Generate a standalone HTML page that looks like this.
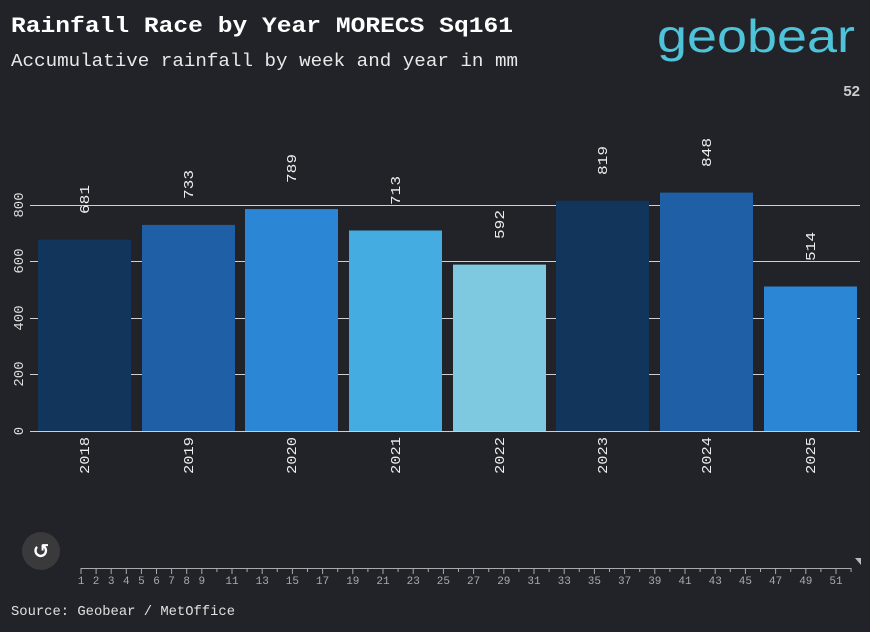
<!DOCTYPE html>
<html><head><style>
body{margin:0;background:#212328;width:870px;height:627px;overflow:hidden;font-family:"Liberation Mono",monospace;}
</style></head><body>
<svg width="870" height="627" xmlns="http://www.w3.org/2000/svg">
<rect width="870" height="627" fill="#212328"/>
<text x="11" y="32" font-family="Liberation Mono" font-weight="bold" font-size="22" fill="#fff" textLength="502" lengthAdjust="spacingAndGlyphs">Rainfall Race by Year MORECS Sq161</text>
<text x="11" y="66" font-family="Liberation Mono" font-size="18" fill="#e8e8e8" textLength="507" lengthAdjust="spacingAndGlyphs">Accumulative rainfall by week and year in mm</text>
<text x="657" y="52" font-family="Liberation Sans" font-size="46" fill="#4fc3d9" textLength="198" lengthAdjust="spacingAndGlyphs">geobear</text>
<text x="860" y="96" text-anchor="end" font-family="Liberation Sans" font-weight="bold" font-size="15" fill="#ccc">52</text>
<g stroke="#cfcfcf" stroke-width="1">
<line x1="30" x2="860" y1="205.5" y2="205.5"/>
<line x1="30" x2="860" y1="261.5" y2="261.5"/>
<line x1="30" x2="860" y1="318.5" y2="318.5"/>
<line x1="30" x2="860" y1="374.5" y2="374.5"/>
</g>
<g font-family="Liberation Mono" font-size="14" fill="#ddd" text-anchor="middle">
<text transform="translate(23,431) rotate(-90)">0</text>
<text transform="translate(23,374) rotate(-90)">200</text>
<text transform="translate(23,318) rotate(-90)">400</text>
<text transform="translate(23,261) rotate(-90)">600</text>
<text transform="translate(23,205) rotate(-90)">800</text>
</g>
<g>
<rect x="38" y="239.6" width="93" height="191.4" fill="#12355b"/>
<rect x="142" y="224.9" width="93" height="206.1" fill="#1f5fa6"/>
<rect x="245" y="209.1" width="93" height="221.9" fill="#2b86d6"/>
<rect x="349" y="230.5" width="93" height="200.5" fill="#44ace0"/>
<rect x="453" y="264.6" width="93" height="166.4" fill="#7ec8e0"/>
<rect x="556" y="200.7" width="93" height="230.3" fill="#12355b"/>
<rect x="660" y="192.6" width="93" height="238.4" fill="#1f5fa6"/>
<rect x="764" y="286.5" width="93" height="144.5" fill="#2b86d6"/>
</g>
<g stroke="#cfcfcf" stroke-width="1"><line x1="30" x2="860" y1="431.5" y2="431.5"/></g>
<g font-family="Liberation Mono" font-size="14" fill="#eee">
<text transform="translate(89,214) rotate(-90)" textLength="29" lengthAdjust="spacingAndGlyphs">681</text>
<text transform="translate(193,199) rotate(-90)" textLength="29" lengthAdjust="spacingAndGlyphs">733</text>
<text transform="translate(296,183) rotate(-90)" textLength="29" lengthAdjust="spacingAndGlyphs">789</text>
<text transform="translate(400,205) rotate(-90)" textLength="29" lengthAdjust="spacingAndGlyphs">713</text>
<text transform="translate(504,239) rotate(-90)" textLength="29" lengthAdjust="spacingAndGlyphs">592</text>
<text transform="translate(607,175) rotate(-90)" textLength="29" lengthAdjust="spacingAndGlyphs">819</text>
<text transform="translate(711,167) rotate(-90)" textLength="29" lengthAdjust="spacingAndGlyphs">848</text>
<text transform="translate(815,261) rotate(-90)" textLength="29" lengthAdjust="spacingAndGlyphs">514</text>
</g>
<g font-family="Liberation Mono" font-size="14" fill="#eee" text-anchor="end">
<text transform="translate(89,437) rotate(-90)" textLength="37" lengthAdjust="spacingAndGlyphs">2018</text>
<text transform="translate(193,437) rotate(-90)" textLength="37" lengthAdjust="spacingAndGlyphs">2019</text>
<text transform="translate(296,437) rotate(-90)" textLength="37" lengthAdjust="spacingAndGlyphs">2020</text>
<text transform="translate(400,437) rotate(-90)" textLength="37" lengthAdjust="spacingAndGlyphs">2021</text>
<text transform="translate(504,437) rotate(-90)" textLength="37" lengthAdjust="spacingAndGlyphs">2022</text>
<text transform="translate(607,437) rotate(-90)" textLength="37" lengthAdjust="spacingAndGlyphs">2023</text>
<text transform="translate(711,437) rotate(-90)" textLength="37" lengthAdjust="spacingAndGlyphs">2024</text>
<text transform="translate(815,437) rotate(-90)" textLength="37" lengthAdjust="spacingAndGlyphs">2025</text>
</g>
<circle cx="41" cy="551" r="19" fill="#3a3a3c"/>
<text x="41" y="558" text-anchor="middle" font-family="DejaVu Sans" font-size="20" font-weight="bold" fill="#fff">↺</text>
<line x1="81" x2="851" y1="568.5" y2="568.5" stroke="#aaa"/>
<polygon points="855,558 861,558 861,565" fill="#bbb"/>
<g id="ticks" stroke="#aaa"></g>
<g id="tl" font-family="Liberation Mono" font-size="11" fill="#aaa" text-anchor="middle"></g>
<text x="11" y="615" font-family="Liberation Mono" font-size="14" fill="#e0e0e0" textLength="224" lengthAdjust="spacingAndGlyphs">Source: Geobear / MetOffice</text>
<script>
var t=document.getElementById('ticks'),l=document.getElementById('tl'),ns='http://www.w3.org/2000/svg';
for(var w=1;w<=52;w++){var x=81+(w-1)*15.1;var ln=document.createElementNS(ns,'line');ln.setAttribute('x1',x);ln.setAttribute('x2',x);ln.setAttribute('y1',568);
var lab=(w<=9)||(w%2==1);ln.setAttribute('y2',lab?574:572);t.appendChild(ln);
if(lab&&w<52){var tx=document.createElementNS(ns,'text');tx.setAttribute('x',x);tx.setAttribute('y',584);tx.textContent=w;l.appendChild(tx);}}
</script>
</svg>
</body></html>
